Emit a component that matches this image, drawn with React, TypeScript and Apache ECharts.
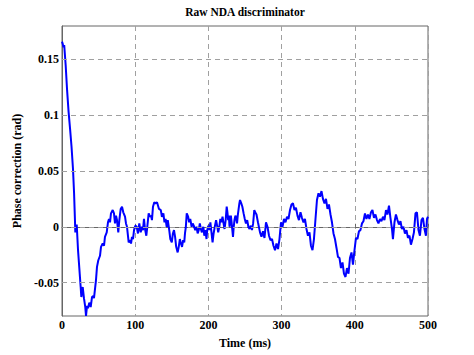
import React, { useEffect, useRef } from "react";
import * as echarts from "echarts";

const times = [
  0, 1, 2, 3, 5, 7, 9, 11, 13, 15, 16.5, 17.5, 18.2, 20.1, 21.9, 25.5, 26.4, 28.3, 30, 31.8,
  32.8, 34.2, 35.5, 37.3, 39.2, 41, 42.8, 43.7, 46.4, 47.8, 49.6, 51.9, 53.3, 55.6, 57.4, 58.7,
  61.1, 62.8, 64.2, 65.6, 66.9, 69.3, 71, 72.4, 73.8, 75.1, 76.9, 78.3, 80.2, 82, 83.7, 86.1,
  87.4, 88.8, 91.1, 92.9, 94.3, 95.6, 97, 98.4, 100.1, 102, 103.8, 105.6, 107.5, 109.3, 110.6,
  112, 113.4, 115.2, 116.5, 118.4, 120.2, 121.6, 122.9, 124.3, 126.1, 127.5, 129.8, 132.5, 135,
  136.5, 138.5, 140, 141.5, 143, 144.5, 146.5, 148, 150, 151.5, 153, 154.5, 156, 158, 159.5,
  161, 162.5, 164, 165.5, 167, 168, 169.2, 170.4, 172.3, 173.7, 175.2, 177.1, 178.5, 180, 182,
  183.9, 185.3, 186.8, 188.3, 189.7, 191.1, 193.1, 194.4, 195.9, 197.4, 198.4, 199.9, 201.4,
  202.7, 204.2, 205.7, 207.1, 209, 210.5, 211.9, 213.4, 214.9, 216.3, 217.8, 219.3, 220.7,
  222.1, 223.6, 225, 226, 227, 227.9, 228.9, 229.8, 230.7, 231.7, 232.7, 233.6, 234.6, 235.6,
  236.9, 238.1, 239.1, 240.1, 241.3, 242.3, 243.2, 244.9, 246.4, 248.1, 249.7, 251.3, 253,
  254.6, 256.2, 257.9, 259.5, 261.1, 262.7, 263.9, 265.7, 267.7, 270.5, 272.5, 274.6, 276.6,
  278.7, 280.7, 282.8, 284.8, 286.9, 288.9, 291, 293, 295.1, 297.1, 299.2, 301.2, 303.3, 305.3,
  307.4, 309.4, 311.5, 313.5, 315.5, 317.6, 319.6, 321.7, 323.7, 325.8, 327.8, 329.9, 331.9,
  334, 336, 338.1, 340.1, 342.2, 344.2, 346.3, 348.3, 350.4, 352.4, 354.5, 356.5, 358.6, 360.6,
  362.7, 364.7, 366.8, 368.8, 370.9, 372.9, 375, 377, 379.1, 381.1, 383.2, 385.2, 387.3, 389.3,
  391.4, 393.4, 395.5, 397.5, 399.6, 401.6, 403.6, 405.7, 407.7, 409.8, 411.8, 413.9, 415.9,
  418, 420, 422.1, 424.1, 426.2, 428.2, 430.3, 432.3, 434.4, 436.4, 438.5, 440.5, 442.6, 444.6,
  446.7, 448.7, 450.8, 452.1, 454.2, 456.2, 458.3, 460.3, 462.4, 464.4, 466.5, 468.5, 470.6,
  472.6, 474.7, 476.7, 478.8, 480.8, 482.9, 484.9, 487, 489, 491.1, 493.1, 495.2, 497.2, 498.6,
  500,
];

const values = [
  0.166, 0.164, 0.161, 0.163, 0.145, 0.122, 0.103, 0.088, 0.072, 0.052, 0.03, 0.01, -0.005, 0.002,
  -0.021, -0.054, -0.063, -0.054, -0.064, -0.072, -0.08, -0.071, -0.073, -0.068, -0.072, -0.063,
  -0.062, -0.064, -0.048, -0.036, -0.03, -0.026, -0.018, -0.015, -0.017, -0.009, -0.005, 0.004,
  0.007, 0.004, 0.012, 0.015, 0.012, 0.003, 0.01, 0.006, -0.005, 0.006, 0.016, 0.018, 0.013,
  0.009, 0.003, 0.0, -0.014, -0.012, -0.015, -0.009, -0.011, -0.003, 0.001, 0.0, -0.006, 0.003,
  -0.005, 0.0, -0.003, 0.007, -0.002, -0.008, 0.0, 0.012, 0.009, 0.01, 0.006, 0.018, 0.022,
  0.021, 0.022, 0.016, 0.015, 0.009, 0.012, 0.004, 0.007, 0.0, 0.006, -0.003, -0.011, -0.014,
  -0.006, -0.003, -0.009, -0.018, -0.023, -0.018, -0.011, -0.015, -0.018, -0.012, -0.014,
  -0.006, 0.0, 0.012, 0.009, 0.004, 0.007, 0.0, 0.003, 0.001, -0.003, 0.0, -0.006, -0.003,
  0.003, -0.002, -0.005, 0.0, -0.008, -0.003, -0.011, -0.003, 0.001, -0.003, 0.004, -0.005,
  -0.014, -0.006, 0.001, 0.006, 0.001, -0.005, 0.0, 0.007, 0.004, 0.009, 0.003, -0.002, 0.006,
  0.018, 0.013, 0.006, 0.01, 0.0, 0.003, 0.01, 0.004, -0.003, -0.009, 0.0, 0.006, 0.01, 0.007,
  0.003, 0.01, 0.016, 0.021, 0.024, 0.021, 0.018, 0.012, 0.007, 0.003, 0.006, 0.0, -0.002,
  0.001, -0.003, 0.003, 0.015, 0.013, 0.011, 0.004, -0.005, -0.009, -0.004, -0.01, 0.004, 0.0,
  -0.008, -0.012, -0.011, -0.017, -0.021, -0.015, -0.02, -0.011, 0.004, 0.0, 0.007, 0.004,
  0.009, 0.007, 0.015, 0.02, 0.021, 0.015, 0.017, 0.01, 0.006, 0.013, 0.008, 0.004, 0.007,
  -0.002, -0.008, -0.005, -0.017, -0.021, -0.011, 0.007, 0.024, 0.03, 0.027, 0.032, 0.025,
  0.021, 0.025, 0.016, 0.02, 0.011, 0.004, -0.006, -0.011, -0.019, -0.027, -0.028, -0.037,
  -0.032, -0.042, -0.045, -0.037, -0.042, -0.028, -0.023, -0.034, -0.021, -0.01, -0.011,
  -0.004, -0.003, 0.003, 0.005, 0.012, 0.007, 0.011, 0.007, 0.013, 0.015, 0.008, 0.011, 0.006,
  0.003, 0.007, 0.005, 0.009, 0.006, 0.015, 0.011, 0.019, 0.008, -0.002, -0.011, 0.004, 0.011,
  0.006, 0.002, 0.005, -0.002, 0.0, -0.006, -0.003, -0.01, -0.008, -0.016, -0.011, -0.005,
  0.012, 0.013, -0.003, -0.008, 0.006, 0.008, -0.002, -0.008, 0.007, 0.009,
];

const yTicks = [-0.05, 0, 0.05, 0.1, 0.15];
const titleText = "Raw NDA discriminator";
const xName = "Time (ms)";
const yName = "Phase correction (rad)";

const FONT = "'Liberation Serif', 'Times New Roman', serif";
const AXIS = "#666";
const GRID = "#a0a0a0";

export default function App() {
  const ref = useRef<HTMLDivElement>(null);
  useEffect(() => {
    document.body.style.margin = "0";
    const chart = echarts.init(ref.current!, null, { renderer: "svg" });
    const labelStyle = { fontFamily: FONT, fontWeight: "bold" as const, fontSize: 12, color: "#000" };
    chart.setOption({
      animation: false,
      backgroundColor: "#fff",
      graphic: [
        {
          type: "text",
          x: 245,
          y: 12,
          style: {
            text: titleText,
            fill: "#000",
            font: `bold 11.5px ${FONT}`,
            align: "center",
            verticalAlign: "middle",
          },
        },
      ],
      grid: { left: 62, right: 46, top: 26, bottom: 39, show: true, borderColor: AXIS, borderWidth: 1 },
      xAxis: {
        type: "value",
        min: 0,
        max: 500,
        interval: 100,
        name: xName,
        nameLocation: "middle",
        nameGap: 21,
        nameTextStyle: labelStyle,
        axisLine: { lineStyle: { color: AXIS } },
        axisTick: { inside: true, length: 3, lineStyle: { color: AXIS } },
        axisLabel: { ...labelStyle, margin: 3 },
        splitLine: { show: true, lineStyle: { type: [5, 4], color: GRID, width: 1 } },
      },
      yAxis: {
        type: "value",
        min: -0.08,
        max: 0.18,
        name: yName,
        nameLocation: "middle",
        nameGap: 34,
        nameTextStyle: labelStyle,
        axisLine: { lineStyle: { color: AXIS } },
        axisTick: { inside: true, length: 3, customValues: yTicks, lineStyle: { color: AXIS } },
        axisLabel: { ...labelStyle, margin: 3, customValues: yTicks, formatter: (v: number) => String(v) },
        splitLine: { show: false },
      },
      series: [
        {
          type: "line",
          data: times.map((t, i) => [t, values[i]]),
          showSymbol: false,
          symbol: "none",
          lineStyle: { color: "#0000ff", width: 2 },
          markLine: {
            silent: true,
            symbol: "none",
            label: { show: false },
            lineStyle: { type: [5, 4], color: GRID, width: 1 },
            data: yTicks.map((v) => ({ yAxis: v })),
          },
        },
      ],
    });
    return () => chart.dispose();
  }, []);
  return <div ref={ref} style={{ width: 474, height: 355 }} />;
}
